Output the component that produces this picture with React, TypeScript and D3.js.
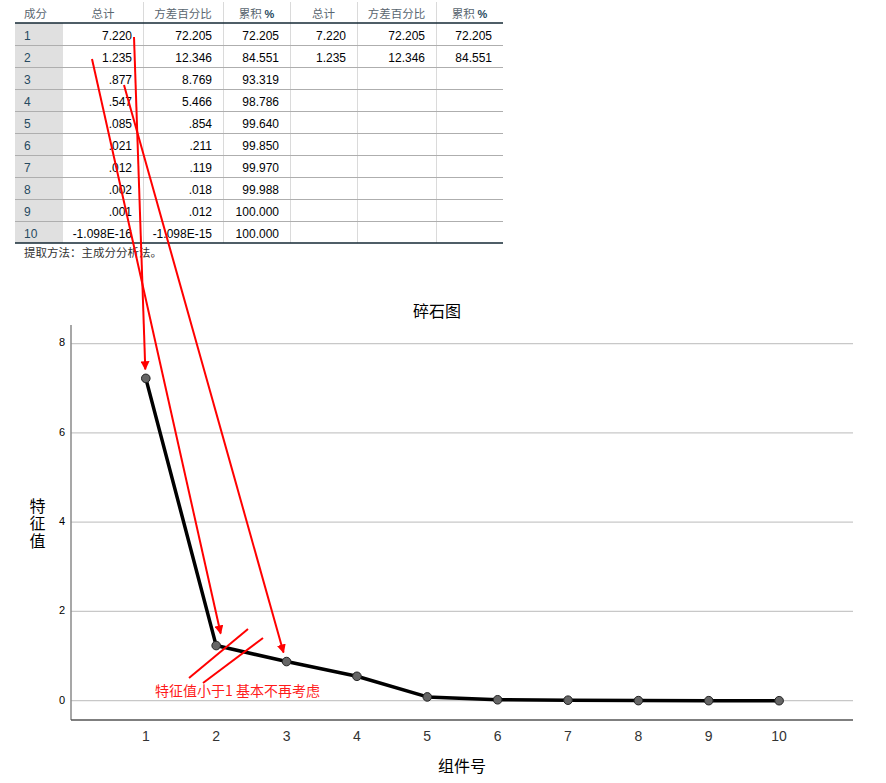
import React from "react";
import * as d3 from "d3";

// Total variance explained table
const components = ["1", "2", "3", "4", "5", "6", "7", "8", "9", "10"];
const totalLabels = ["7.220", "1.235", ".877", ".547", ".085", ".021", ".012", ".002", ".001", "-1.098E-16"];
const varianceLabels = ["72.205", "12.346", "8.769", "5.466", ".854", ".211", ".119", ".018", ".012", "-1.098E-15"];
const cumulativeLabels = ["72.205", "84.551", "93.319", "98.786", "99.640", "99.850", "99.970", "99.988", "100.000", "100.000"];
const extractTotalLabels = ["7.220", "1.235"];
const extractVarianceLabels = ["72.205", "12.346"];
const extractCumulativeLabels = ["72.205", "84.551"];
const tableHeaders = ["成分", "总计", "方差百分比", "累积 %", "总计", "方差百分比", "累积 %"];

// Scree plot values
const eigenvalues = [7.22, 1.235, 0.877, 0.547, 0.085, 0.021, 0.012, 0.002, 0.001, -1.098e-16];
const yTicks = [0, 2, 4, 6, 8];
const xTicks = [1, 2, 3, 4, 5, 6, 7, 8, 9, 10];

const SANS = "'Liberation Sans', Arial, 'Noto Sans CJK SC', sans-serif";
const CJK = "'Noto Sans CJK SC', 'Liberation Sans', sans-serif";

export default function App() {
  // table geometry
  const colEdges = [15, 63, 143, 223, 290, 357, 436, 503];
  const headerBottom = 23;
  const rowH = 22;
  const rowY = (i: number) => headerBottom + i * rowH;

  // chart geometry
  const left = 71, right = 853, top = 325, bottom = 720;
  const x = d3.scaleLinear().domain([-0.063, 11.05]).range([left, right]);
  const y = d3.scaleLinear().domain([-0.432, 8.415]).range([bottom, top]);

  const line = d3
    .line<number>()
    .x((_, i) => x(i + 1))
    .y((d) => y(d));

  const columns: string[][] = [
    totalLabels,
    varianceLabels,
    cumulativeLabels,
    extractTotalLabels,
    extractVarianceLabels,
    extractCumulativeLabels,
  ];

  // annotation arrows: from table cells to points on the curve
  const arrows = [
    { x1: 134, y1: 37, x2: x(1) - 0.5, y2: y(eigenvalues[0]) - 9 },
    { x1: 92, y1: 59, x2: x(2) + 4.5, y2: y(eigenvalues[1]) - 12 },
    { x1: 124, y1: 85, x2: x(3) - 3, y2: y(eigenvalues[2]) - 9 },
  ];

  const cellMid = (i: number) => rowY(i) + rowH / 2 + 2.5;

  return (
    <svg
      width={886}
      height={783}
      style={{ position: "absolute", left: 0, top: 0, background: "#fff" }}
    >
      <defs>
        <marker
          id="arrowHead"
          viewBox="0 0 10 10"
          refX={9}
          refY={5}
          markerWidth={4.5}
          markerHeight={4.5}
          orient="auto"
          markerUnits="strokeWidth"
        >
          <path d="M0,0 L10,5 L0,10 z" fill="#ff0000" />
        </marker>
      </defs>

      {/* ---------- table ---------- */}
      <rect x={colEdges[0]} y={headerBottom} width={colEdges[1] - colEdges[0]} height={rowH * 10} fill="#e0e0e0" />
      {colEdges.slice(2, 7).map((cx) => (
        <line key={"v" + cx} x1={cx + 0.5} x2={cx + 0.5} y1={2} y2={rowY(10)} stroke="#dadada" strokeWidth={1} />
      ))}
      {components.slice(0, 9).map((_, i) => (
        <line
          key={"h" + i}
          x1={colEdges[0]}
          x2={colEdges[7]}
          y1={rowY(i + 1) + 0.5}
          y2={rowY(i + 1) + 0.5}
          stroke="#aeaeae"
          strokeWidth={1}
        />
      ))}
      <line x1={colEdges[0]} x2={colEdges[7]} y1={headerBottom} y2={headerBottom} stroke="#152935" strokeWidth={1.5} />
      <line x1={colEdges[0]} x2={colEdges[7]} y1={rowY(10)} y2={rowY(10)} stroke="#152935" strokeWidth={1.5} />

      {tableHeaders.map((h, i) => (
        <text
          key={"th" + i}
          x={i === 0 ? 24 : (colEdges[i] + colEdges[i + 1]) / 2}
          y={15}
          textAnchor={i === 0 ? "start" : "middle"}
          dominantBaseline="middle"
          fontFamily={CJK}
          fontSize={11.5}
          fill="#5a6670"
        >
          {h.endsWith("%") ? (
            <>
              {h.slice(0, -1)}
              <tspan fill="#264a60" fontFamily={SANS} fontWeight="bold" fontSize={11}>
                %
              </tspan>
            </>
          ) : (
            h
          )}
        </text>
      ))}

      {components.map((c, i) => (
        <text
          key={"rl" + i}
          x={24}
          y={cellMid(i)}
          dominantBaseline="middle"
          fontFamily={SANS}
          fontSize={12}
          fill="#264a60"
        >
          {c}
        </text>
      ))}

      {columns.map((col, ci) =>
        col.map((v, ri) => (
          <text
            key={`c${ci}-${ri}`}
            x={colEdges[ci + 2] - 11}
            y={cellMid(ri)}
            textAnchor="end"
            dominantBaseline="middle"
            fontFamily={SANS}
            fontSize={12}
            fill="#010205"
          >
            {v}
          </text>
        ))
      )}

      <text x={24} y={254} dominantBaseline="middle" fontFamily={CJK} fontSize={11.5} fill="#333">
        提取方法：主成分分析法。
      </text>

      {/* ---------- scree plot ---------- */}
      <text x={437} y={313} textAnchor="middle" dominantBaseline="middle" fontFamily={CJK} fontSize={16} fill="#000">
        碎石图
      </text>

      {yTicks.map((t) => (
        <g key={"gy" + t}>
          <line x1={left} x2={right} y1={y(t)} y2={y(t)} stroke="#c8c8c8" strokeWidth={1.2} />
          <text
            x={left - 6}
            y={y(t)}
            textAnchor="end"
            dominantBaseline="middle"
            fontFamily={SANS}
            fontSize={11}
            fill="#000"
          >
            {t}
          </text>
        </g>
      ))}

      <line x1={left} x2={left} y1={top} y2={bottom} stroke="#8a8a8a" strokeWidth={1.5} />
      <line x1={left} x2={right} y1={bottom} y2={bottom} stroke="#555" strokeWidth={1.3} />

      {xTicks.map((t) => (
        <text
          key={"xt" + t}
          x={x(t)}
          y={737}
          textAnchor="middle"
          dominantBaseline="middle"
          fontFamily={SANS}
          fontSize={14}
          fill="#333"
        >
          {t}
        </text>
      ))}

      <text x={462} y={768} textAnchor="middle" dominantBaseline="middle" fontFamily={CJK} fontSize={16} fill="#000">
        组件号
      </text>
      <text
        x={37.5}
        y={524}
        textAnchor="middle"
        fontFamily={CJK}
        fontSize={16}
        fill="#000"
        style={{ writingMode: "vertical-rl", letterSpacing: "1.5px" }}
      >
        特征值
      </text>

      <path d={line(eigenvalues) || ""} fill="none" stroke="#000" strokeWidth={3.5} strokeLinejoin="round" />
      {eigenvalues.map((v, i) => (
        <circle key={"pt" + i} cx={x(i + 1)} cy={y(v)} r={4.3} fill="#666" stroke="#222" strokeWidth={1} />
      ))}

      {/* ---------- annotations ---------- */}
      {arrows.map((a, i) => (
        <line
          key={"ar" + i}
          x1={a.x1}
          y1={a.y1}
          x2={a.x2}
          y2={a.y2}
          stroke="#ff0000"
          strokeWidth={2}
          markerEnd="url(#arrowHead)"
        />
      ))}
      <line x1={189} y1={678} x2={248} y2={629} stroke="#ff0000" strokeWidth={2} />
      <line x1={203} y1={683} x2={263} y2={638} stroke="#ff0000" strokeWidth={2} />
      <text x={155} y={692} dominantBaseline="middle" fontFamily={CJK} fontSize={14} fill="#ff1a1a">
        特征值小于1 基本不再考虑
      </text>
    </svg>
  );
}
